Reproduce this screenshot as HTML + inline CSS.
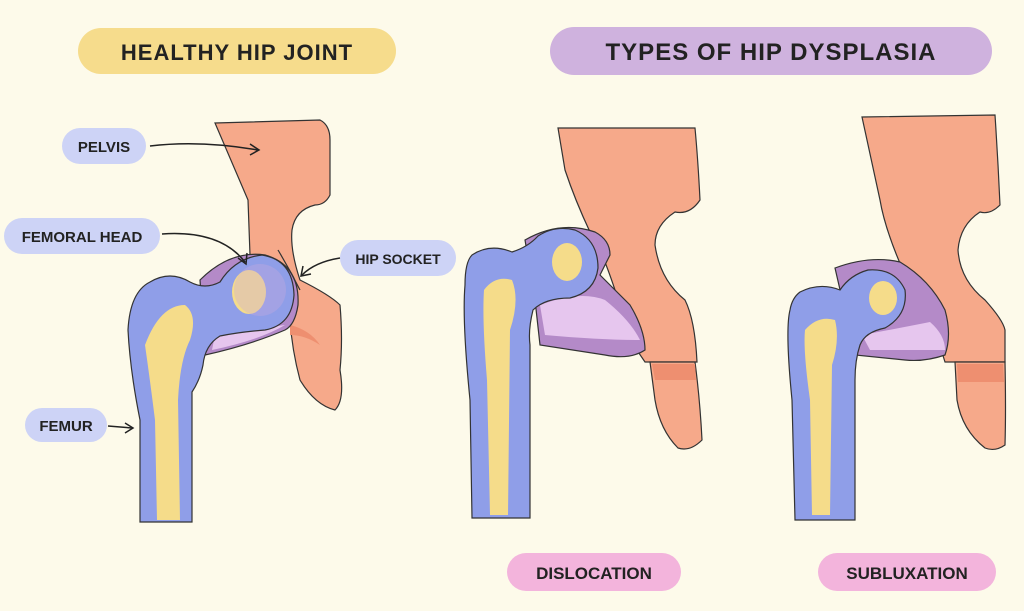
<!DOCTYPE html>
<html><head><meta charset="utf-8"><style>
html,body{margin:0;padding:0;background:#fdfaea;}
svg{display:block}
text{font-family:"Liberation Sans",sans-serif;font-weight:bold;fill:#222;}
</style></head><body>
<svg width="1024" height="611" viewBox="0 0 1024 611" xmlns="http://www.w3.org/2000/svg">
<rect width="1024" height="611" fill="#fdfaea"/>
<rect x="78" y="28" width="318" height="46" rx="23" fill="#f6dc8c"/>
<text x="237" y="60" font-size="22" text-anchor="middle" letter-spacing="1">HEALTHY HIP JOINT</text>
<rect x="550" y="27" width="442" height="48" rx="24" fill="#cfb2de"/>
<text x="771" y="60" font-size="24" text-anchor="middle" letter-spacing="1">TYPES OF HIP DYSPLASIA</text>

<!-- HEALTHY -->
<path d="M215 123 L320 120 Q330 125 330 140 L330 195 Q325 205 315 205 Q295 210 292 230 Q290 250 300 280 Q330 295 340 305 Q343 340 340 370 Q345 400 335 410 Q315 405 300 380 Q292 350 290 320 L270 280 L250 255 L248 200 Q235 170 215 123 Z" fill="#f6a98a" stroke="#333" stroke-width="1.2"/>
<path d="M290 325 Q310 330 320 345 Q305 335 290 335 Z" fill="#ee8f70"/>
<path d="M200 280 Q230 250 265 255 Q300 265 298 305 Q295 325 285 330 Q250 345 205 355 Z" fill="#b48ac8" stroke="#333" stroke-width="1.2"/>
<path d="M215 335 Q245 330 285 325 Q260 340 212 350 Z" fill="#e6c6ee"/>
<path d="M150 282 Q170 270 190 282 Q205 290 220 282 Q235 258 262 255 Q293 260 294 295 Q292 325 265 330 Q240 332 220 336 Q205 345 203 365 Q200 380 192 392 L192 522 L140 522 L140 420 Q130 370 128 330 Q130 292 150 282 Z" fill="#8f9ee8" stroke="#333" stroke-width="1.2"/>
<path d="M145 345 Q160 305 185 305 Q198 315 190 340 Q180 360 178 400 L180 520 L157 520 L155 420 Q150 380 145 345 Z" fill="#f5dc8a"/>
<ellipse cx="249" cy="292" rx="17" ry="22" fill="#f5dc8a"/>
<circle cx="260" cy="290" r="26" fill="#c8a8dc" opacity="0.35"/>
<path d="M278 250 Q290 270 300 290" stroke="#333" fill="none" stroke-width="1.2"/>

<!-- MIDDLE -->
<path d="M558 128 L695 128 Q698 160 700 200 Q690 215 675 212 Q655 225 655 245 Q660 280 685 300 Q695 320 697 362 L645 362 L630 340 L615 290 Q600 245 590 232 Q575 200 565 170 Z" fill="#f6a98a" stroke="#333" stroke-width="1.2"/>
<path d="M650 362 L695 362 Q700 400 702 440 Q690 452 678 448 Q660 430 655 400 Z" fill="#f6a98a" stroke="#333" stroke-width="1.2"/>
<path d="M652 364 L695 364 L696 380 L655 380 Z" fill="#ee8f70"/>
<path d="M525 240 Q560 220 595 232 Q610 240 610 255 L600 275 Q615 290 630 305 Q645 330 645 350 Q630 360 605 355 L540 345 L535 300 Z" fill="#b48ac8" stroke="#333" stroke-width="1.2"/>
<path d="M540 305 Q580 290 605 300 Q630 320 640 340 Q600 340 545 335 Z" fill="#e6c6ee"/>
<path d="M472 255 Q490 243 512 252 Q528 247 538 236 Q555 225 575 230 Q598 240 598 268 Q595 292 570 298 Q545 298 533 310 Q528 330 530 345 L530 518 L472 518 L470 400 Q462 320 465 285 Q465 262 472 255 Z" fill="#8f9ee8" stroke="#333" stroke-width="1.2"/>
<path d="M484 290 Q495 275 512 280 Q520 300 510 330 L508 515 L490 515 L487 380 Q482 320 484 290 Z" fill="#f5dc8a"/>
<ellipse cx="567" cy="262" rx="15" ry="19" fill="#f5dc8a"/>

<!-- RIGHT -->
<path d="M862 117 L995 115 Q998 160 1000 205 Q990 215 980 212 Q960 225 958 250 Q960 280 985 300 Q1003 320 1005 330 L1005 362 L945 362 L935 330 Q920 295 905 275 Q885 230 880 200 Z" fill="#f6a98a" stroke="#333" stroke-width="1.2"/>
<path d="M955 362 L1005 362 Q1006 410 1005 445 Q995 452 985 448 Q962 430 957 400 Z" fill="#f6a98a" stroke="#333" stroke-width="1.2"/>
<path d="M957 364 L1003 364 L1004 382 L958 382 Z" fill="#ee8f70"/>
<path d="M835 268 Q870 255 900 262 Q930 280 945 310 Q952 335 945 355 Q925 362 905 360 L855 355 Z" fill="#b48ac8" stroke="#333" stroke-width="1.2"/>
<path d="M862 335 Q900 328 930 322 Q945 335 945 350 L870 350 Z" fill="#e6c6ee"/>
<path d="M800 292 Q820 282 840 290 Q850 275 868 270 Q895 268 905 290 Q908 315 885 328 Q865 332 860 345 Q855 360 855 380 L855 520 L795 520 L792 400 Q785 330 790 310 Q792 298 800 292 Z" fill="#8f9ee8" stroke="#333" stroke-width="1.2"/>
<path d="M805 330 Q818 315 835 320 Q840 340 832 365 L830 515 L812 515 L810 400 Q803 350 805 330 Z" fill="#f5dc8a"/>
<ellipse cx="883" cy="298" rx="14" ry="17" fill="#f5dc8a"/>

<!-- labels -->
<rect x="62" y="128" width="84" height="36" rx="18" fill="#cdd3f6"/>
<text x="104" y="152" font-size="15" text-anchor="middle">PELVIS</text>
<rect x="4" y="218" width="156" height="36" rx="18" fill="#cdd3f6"/>
<text x="82" y="242" font-size="15" text-anchor="middle">FEMORAL HEAD</text>
<rect x="340" y="240" width="116" height="36" rx="18" fill="#cdd3f6"/>
<text x="398" y="264" font-size="14" text-anchor="middle">HIP SOCKET</text>
<rect x="25" y="408" width="82" height="34" rx="17" fill="#cdd3f6"/>
<text x="66" y="431" font-size="15" text-anchor="middle">FEMUR</text>
<rect x="507" y="553" width="174" height="38" rx="19" fill="#f3b4dc"/>
<text x="594" y="579" font-size="17" text-anchor="middle">DISLOCATION</text>
<rect x="818" y="553" width="178" height="38" rx="19" fill="#f3b4dc"/>
<text x="907" y="579" font-size="17" text-anchor="middle">SUBLUXATION</text>

<g stroke="#222" stroke-width="1.5" fill="none">
<path d="M150 146 Q200 140 258 150"/><path d="M250 144 L259 150 L250 155"/>
<path d="M162 234 Q220 230 245 262"/><path d="M238 258 L246 264 L247 253"/>
<path d="M340 258 Q315 262 302 275"/><path d="M303 266 L301 276 L311 274"/>
<path d="M108 426 L132 428"/><path d="M125 423 L133 428 L125 433"/>
</g>
</svg>
</body></html>
